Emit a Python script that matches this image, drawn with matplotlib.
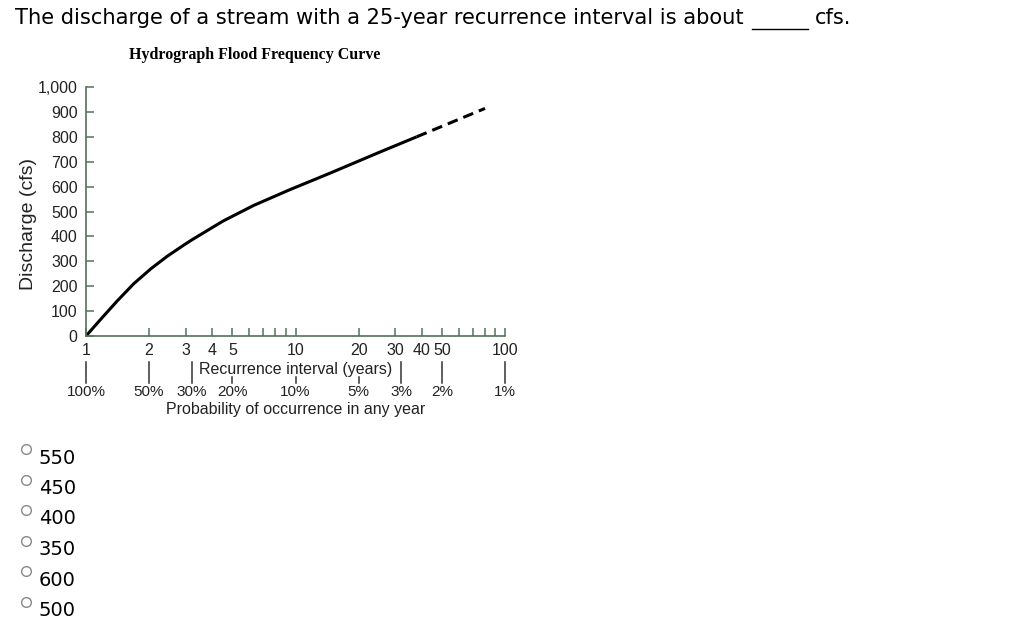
import matplotlib
matplotlib.use("Agg")
import matplotlib.pyplot as plt
import matplotlib.transforms as mtransforms
from matplotlib.ticker import FixedLocator, FuncFormatter, NullFormatter

# curve (recurrence interval in years, discharge in cfs)
solid_years = [1, 1.175, 1.41, 1.69, 2.04, 2.44, 2.94, 3.2, 4.05, 4.52, 6.3, 9.42, 12.8, 15.1, 25, 37.9]
solid_cfs = [0, 67, 141, 210, 270, 320, 366, 386, 438, 462, 524, 588, 634, 659, 737, 800]
dash_years = [37.9, 80.3]
dash_cfs = [800, 914]

major_x = [1, 2, 3, 4, 5, 10, 20, 30, 40, 50, 100]
minor_x = [6, 7, 8, 9, 60, 70, 80, 90]
y_ticks = list(range(0, 1001, 100))

# probability labels and where the figure puts them on the year axis
prob_pct = [100, 50, 30, 20, 10, 5, 3, 2, 1]
prob_years = [1, 2, 3.2, 5, 10, 20, 32, 50, 100]
prob_long = [True, True, True, False, False, False, True, True, True]

question = "The discharge of a stream with a 25-year recurrence interval is about"
answers = ["550", "450", "400", "350", "600", "500"]

spine_col = "#55705a"
txt_col = "#222222"
arial = ["Liberation Sans", "DejaVu Sans"]

fig = plt.figure(figsize=(10.24, 6.21), dpi=100)
ax = fig.add_axes([86 / 1024, 1 - 336 / 621, (505 - 86) / 1024, (336 - 87) / 621])

ax.plot(solid_years, solid_cfs, color="black", lw=2.2, solid_capstyle="butt", solid_joinstyle="round")
ax.plot(dash_years, dash_cfs, color="black", lw=2.2, dashes=(3.5, 2))

ax.set_xscale("log")
ax.set_xlim(1, 100)
ax.set_ylim(0, 1000)
ax.xaxis.set_major_locator(FixedLocator(major_x))
ax.xaxis.set_minor_locator(FixedLocator(minor_x))
ax.xaxis.set_major_formatter(FuncFormatter(lambda v, p: "%d" % v))
ax.xaxis.set_minor_formatter(NullFormatter())
ax.set_yticks(y_ticks)
ax.yaxis.set_major_formatter(FuncFormatter(lambda v, p: "{:,}".format(int(v))))

for s in ["top", "right"]:
    ax.spines[s].set_visible(False)
for s in ["left", "bottom"]:
    ax.spines[s].set_color(spine_col)
    ax.spines[s].set_linewidth(1.2)

ax.tick_params(axis="both", which="both", direction="in", color=spine_col, width=1.1)
ax.tick_params(axis="both", which="major", length=6, labelsize=11.5, labelcolor=txt_col)
ax.tick_params(axis="x", which="minor", length=6)
ax.tick_params(axis="x", pad=5)
ax.tick_params(axis="y", pad=6)
for lab in ax.get_xticklabels() + ax.get_yticklabels():
    lab.set_family(arial)

ax.set_ylabel("Discharge (cfs)", fontsize=14, family=arial, color=txt_col)
ax.yaxis.set_label_coords(-0.117, 0.45)

# probability row under the axis
tr = mtransforms.blended_transform_factory(ax.transData, ax.transAxes)
for pct, yr, long_bar in zip(prob_pct, prob_years, prob_long):
    y0 = -0.104 if long_bar else -0.165
    ax.plot([yr, yr], [y0, -0.189], color="#333333", lw=1.1, transform=tr, clip_on=False)
    ax.text(yr, -0.225, "%d%%" % pct, transform=tr, ha="center", va="center",
            fontsize=11, family=arial, color=txt_col)
ax.text(10, -0.133, "Recurrence interval (years)", transform=tr, ha="center", va="center",
        fontsize=11.5, family=arial, color=txt_col)
ax.text(10, -0.297, "Probability of occurrence in any year", transform=tr, ha="center",
        va="center", fontsize=11.5, family=arial, color=txt_col)

# title in serif bold
fig.text(255 / 1024, 1 - 55 / 621, "Hydrograph Flood Frequency Curve", ha="center", va="center",
         fontsize=11.5, fontweight="bold", family=["Liberation Serif", "DejaVu Serif"])

# question text and answer options, laid out in pixel coordinates
ov = fig.add_axes([0, 0, 1, 1], facecolor="none")
ov.set_xlim(0, 1024)
ov.set_ylim(621, 0)
ov.axis("off")
ov.text(15, 18, question, ha="left", va="center", fontsize=15.1, family="DejaVu Sans")
ov.plot([752, 808], [29, 29], color="black", lw=1)
ov.text(815, 18, "cfs.", ha="left", va="center", fontsize=15, family="DejaVu Sans")

for i, a in enumerate(answers):
    yc = 458 + i * 30.5
    ov.plot(26, yc - 9, marker="o", ms=7, mfc="white", mec="#888888", mew=1)
    ov.text(39, yc, a, ha="left", va="center", fontsize=14, family="DejaVu Sans")

fig.savefig("out.png", dpi=100)
